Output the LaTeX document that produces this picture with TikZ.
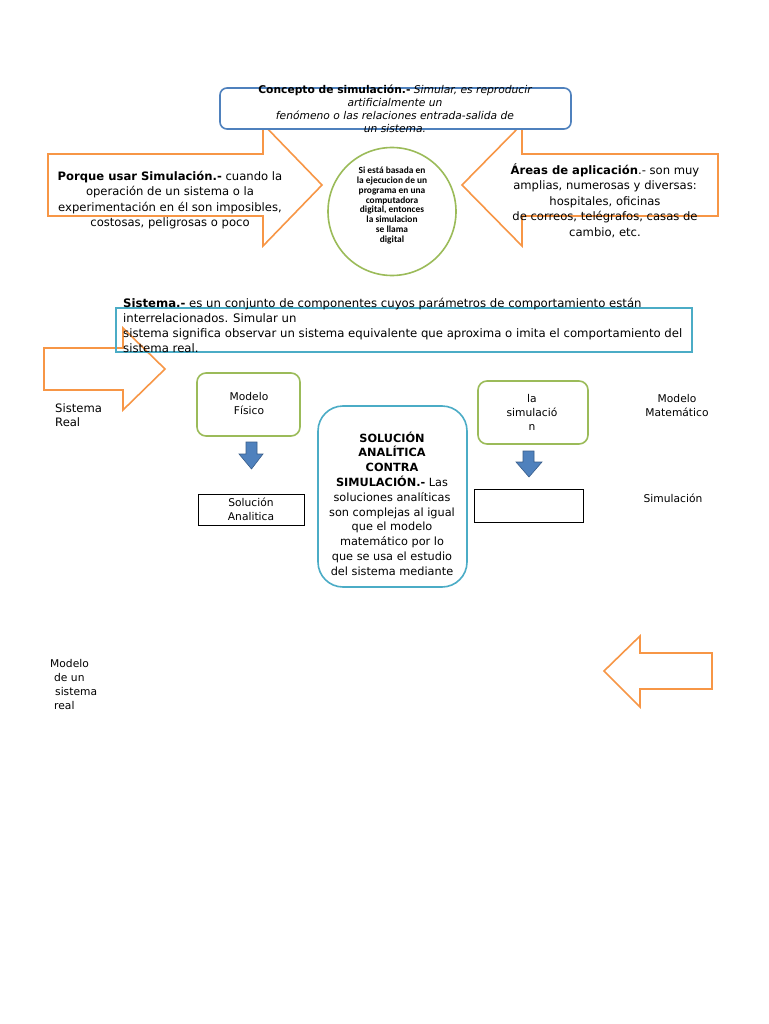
\documentclass[tikz,border=0pt]{standalone}
\usepackage{fontspec}
\setmainfont{DejaVu Sans}
\newfontfamily\circfont{Carlito}
\definecolor{orangeln}{HTML}{F79646}
\definecolor{blueln}{HTML}{4F81BD}
\definecolor{bluedk}{HTML}{385D8A}
\definecolor{greenln}{HTML}{9BBB59}
\definecolor{tealln}{HTML}{4BACC6}

\begin{document}
\begin{tikzpicture}[x=1pt, y=-1pt]

\tikzset{
bigarrow/.style={draw=orangeln,line width=1.6pt,line join=miter},
downarrow/.style={fill=blueln,draw=bluedk,line width=0.6pt},
concbox/.style={draw=blueln,fill=white,line width=1.6pt,rounded corners=7pt},
greenbox/.style={draw=greenln,line width=1.6pt,rounded corners=9pt},
tealbox/.style={draw=tealln,line width=1.6pt},
plainbox/.style={draw=black,line width=0.8pt},
lab/.style={inner sep=0pt,align=center,font=\fontsize{11.6}{15.5}\selectfont},
smalllab/.style={inner sep=0pt,align=center,font=\fontsize{10.7}{14}\selectfont}
}

\fill[white] (0,0) rectangle (768,1024);
\useasboundingbox (0,0) rectangle (768,1024);

% Arrows
\draw[bigarrow] (48,154) -- (263,154) -- (263,124) -- (322,185) -- (263,246) -- (263,216) -- (48,216) -- cycle;
\draw[bigarrow] (718,154) -- (522,154) -- (522,124) -- (462,185) -- (522,246) -- (522,216) -- (718,216) -- cycle;
\draw[bigarrow] (44,348) -- (123,348) -- (123,328) -- (165,369) -- (123,410) -- (123,390) -- (44,390) -- cycle;
\draw[bigarrow] (712,653) -- (640,653) -- (640,636) -- (604,671) -- (640,707) -- (640,689) -- (712,689) -- cycle;

\draw[downarrow] (246,442) -- (257,442) -- (257,454) -- (263,454) -- (251.5,469) -- (239,454) -- (246,454) -- cycle;
\draw[downarrow] (523,451) -- (534,451) -- (534,462) -- (542,462) -- (529,477) -- (516,462) -- (523,462) -- cycle;

% Boxes
\draw[concbox] (220,88) rectangle (571,129);
\draw[greenln,line width=1.6pt] (392,211.5) circle (64);
\draw[tealbox] (116,308) rectangle (692,352);
\draw[greenbox] (197,373) rectangle (300,436);
\draw[greenbox] (478,381) rectangle (588,444);
\draw[tealbox,rounded corners=25pt] (318,406) rectangle (467,587);
\draw[plainbox] (198,494) rectangle (304,525);
\draw[plainbox] (474,489) rectangle (583,522);

% Labels
\node[lab,font=\fontsize{10.7}{13}\selectfont\itshape] (concept) at (395,108.5)
  {{\upshape\bfseries Concepto de simulación.-} Simular, es reproducir\\
   artificialmente un\\fenómeno o las relaciones entrada-salida de\\un sistema.};
\node[lab] (porque) at (170,200)
  {\textbf{Porque usar Simulación.-} cuando la\\operación de un sistema o la\\
   experimentación en él son imposibles,\\costosas, peligrosas o poco};
\node[lab,font=\fontsize{9.4}{9.85}\selectfont\circfont\bfseries] (digital) at (392,205.5)
  {Si está basada en\\la ejecucion de un\\programa en una\\computadora\\
   digital, entonces\\la simulacion\\se llama\\digital};
\node[lab] (areas) at (605,200.5)
  {\textbf{Áreas de aplicación}.- son muy\\amplias, numerosas y diversas:\\
   hospitales, oficinas\\de correos, telégrafos, casas de\\cambio, etc.};
\node[lab,align=left,anchor=west,font=\fontsize{11.7}{15}\selectfont] (sistema) at (123,325.5)
  {\textbf{Sistema.-} es un conjunto de componentes cuyos parámetros de comportamiento están\\
   interrelacionados. Simular un\\
   sistema significa observar un sistema equivalente que aproxima o imita el comportamiento del\\
   sistema real.};
\node[smalllab] (modfis) at (249,403.5) {Modelo\\Físico};
\node[smalllab] (solan) at (251,509) {Solución\\Analitica};
\node[lab,font=\fontsize{11.3}{14.8}\selectfont] (contra) at (392,503.5)
  {\textbf{SOLUCIÓN}\\\textbf{ANALÍTICA}\\\textbf{CONTRA}\\\textbf{SIMULACIÓN.-} Las\\
   soluciones analíticas\\son complejas al igual\\que el modelo\\matemático por lo\\
   que se usa el estudio\\del sistema mediante};
\node[smalllab] (lasim) at (532,412) {la\\simulació\\n};
\node[smalllab] (modmat) at (677,406) {Modelo\\Matemático};
\node[smalllab] (simul) at (673,498) {Simulación};
\node[lab,align=left,anchor=west,font=\fontsize{11.6}{14}\selectfont] (sisreal) at (55,415) {Sistema\\Real};
\node[smalllab,align=left,anchor=west] (modreal) at (50,685)
  {Modelo\\\hspace{4pt}de un\\\hspace{5pt}sistema\\\hspace{4pt}real};

\end{tikzpicture}
\end{document}
